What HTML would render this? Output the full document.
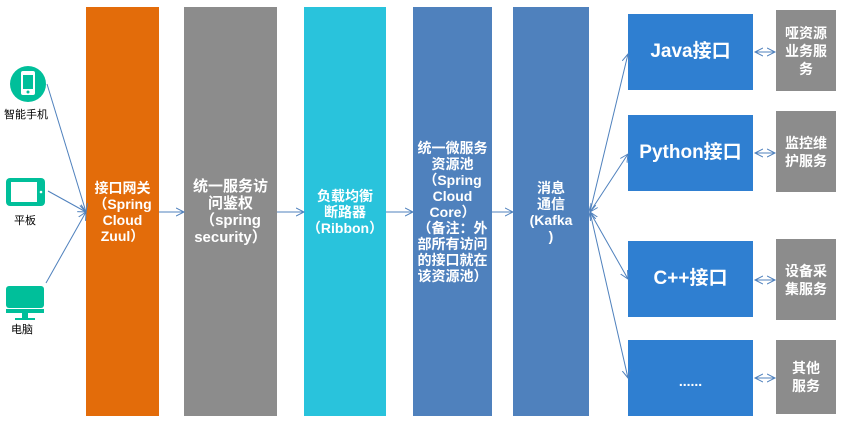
<!DOCTYPE html>
<html><head><meta charset="utf-8"><style>
body{margin:0;width:846px;height:433px;background:#fff;position:relative;overflow:hidden;font-family:"Liberation Sans","Noto Sans CJK SC",sans-serif}
.b{position:absolute;display:flex;align-items:center;justify-content:center;text-align:center;color:#fff;font-weight:bold;font-size:14px;line-height:16px}
.l{position:absolute;font-size:11px;color:#000}
</style></head><body>
<div class="b" style="left:86px;top:7px;width:73px;height:409px;background:#e36c0a">接口网关<br>（Spring<br>Cloud<br>Zuul）</div>
<div class="b" style="left:184px;top:7px;width:93px;height:409px;background:#8c8c8c;font-size:15px;line-height:17px">统一服务访<br>问鉴权<br>（spring<br>security）</div>
<div class="b" style="left:304px;top:7px;width:82px;height:409px;background:#29c3dc">负载均衡<br>断路器<br>（Ribbon）</div>
<div class="b" style="left:413px;top:7px;width:79px;height:409px;background:#4f81bd;font-size:14px;line-height:16px">统一微服务<br>资源池<br>（Spring<br>Cloud<br>Core）<br>（备注：外<br>部所有访问<br>的接口就在<br>该资源池）</div>
<div class="b" style="left:513px;top:7px;width:76px;height:409px;background:#4f81bd">消息<br>通信<br>(Kafka<br>)</div>
<div class="b" style="left:628px;top:14px;width:125px;height:76px;background:#2f7fd1;font-size:19px">Java接口</div>
<div class="b" style="left:628px;top:115px;width:125px;height:76px;background:#2f7fd1;font-size:19px">Python接口</div>
<div class="b" style="left:628px;top:241px;width:125px;height:76px;background:#2f7fd1;font-size:19px">C++接口</div>
<div class="b" style="left:628px;top:340px;width:125px;height:76px;background:#2f7fd1;font-size:14px;padding-top:6px;box-sizing:border-box">......</div>
<div class="b" style="left:776px;top:10px;width:60px;height:81px;background:#8c8c8c;line-height:18px">哑资源<br>业务服<br>务</div>
<div class="b" style="left:776px;top:111px;width:60px;height:81px;background:#8c8c8c;line-height:18px">监控维<br>护服务</div>
<div class="b" style="left:776px;top:239px;width:60px;height:81px;background:#8c8c8c;line-height:18px">设备采<br>集服务</div>
<div class="b" style="left:776px;top:340px;width:60px;height:74px;background:#8c8c8c;line-height:18px">其他<br>服务</div>
<svg style="position:absolute;left:0;top:0" width="846" height="433">
<defs><marker id="a" markerWidth="10" markerHeight="10" refX="8" refY="5" orient="auto-start-reverse" markerUnits="userSpaceOnUse"><path d="M0,1 L8,5 L0,9" fill="none" stroke="#4f81bd" stroke-width="1"/></marker></defs>
<g stroke="#4f81bd" stroke-width="1" fill="none">
<circle cx="28" cy="84" r="18" fill="#00bf9a" stroke="none"/>
<rect x="21" y="71" width="14" height="24" rx="2" fill="#fff" stroke="none"/>
<rect x="23" y="75" width="10" height="14" fill="#00bf9a" stroke="none"/>
<circle cx="28" cy="92" r="1.5" fill="#00bf9a" stroke="none"/>
<rect x="6" y="178" width="39" height="28" rx="4" fill="#00bf9a" stroke="none"/>
<rect x="11" y="182" width="26" height="20" fill="#fff" stroke="none"/>
<circle cx="41" cy="192" r="1.3" fill="#fff" stroke="none"/>
<rect x="6" y="286" width="38" height="22" rx="3" fill="#00bf9a" stroke="none"/>
<rect x="6" y="309" width="38" height="4" fill="#00bf9a" stroke="none"/>
<rect x="22" y="313" width="6" height="5" fill="#00bf9a" stroke="none"/>
<rect x="15" y="318" width="20" height="2" fill="#00bf9a" stroke="none"/>
<line x1="47" y1="84" x2="86" y2="212" marker-end="url(#a)"/>
<line x1="48" y1="191" x2="86" y2="212" marker-end="url(#a)"/>
<line x1="46" y1="283" x2="86" y2="212" marker-end="url(#a)"/>
<line x1="159" y1="212" x2="184" y2="212" marker-end="url(#a)"/>
<line x1="277" y1="212" x2="304" y2="212" marker-end="url(#a)"/>
<line x1="386" y1="212" x2="413" y2="212" marker-end="url(#a)"/>
<line x1="492" y1="212" x2="513" y2="212" marker-end="url(#a)"/>
<line x1="590" y1="212" x2="628" y2="54" marker-start="url(#a)" marker-end="url(#a)"/>
<line x1="590" y1="212" x2="628" y2="154" marker-start="url(#a)" marker-end="url(#a)"/>
<line x1="590" y1="212" x2="628" y2="279" marker-start="url(#a)" marker-end="url(#a)"/>
<line x1="590" y1="212" x2="628" y2="378" marker-start="url(#a)" marker-end="url(#a)"/>
<line x1="755" y1="52" x2="775" y2="52" marker-start="url(#a)" marker-end="url(#a)"/>
<line x1="755" y1="153" x2="775" y2="153" marker-start="url(#a)" marker-end="url(#a)"/>
<line x1="755" y1="280" x2="775" y2="280" marker-start="url(#a)" marker-end="url(#a)"/>
<line x1="755" y1="378" x2="775" y2="378" marker-start="url(#a)" marker-end="url(#a)"/>
</g></svg>
<div class="l" style="left:4px;top:106px">智能手机</div>
<div class="l" style="left:14px;top:212px">平板</div>
<div class="l" style="left:11px;top:321px">电脑</div>
</body></html>
